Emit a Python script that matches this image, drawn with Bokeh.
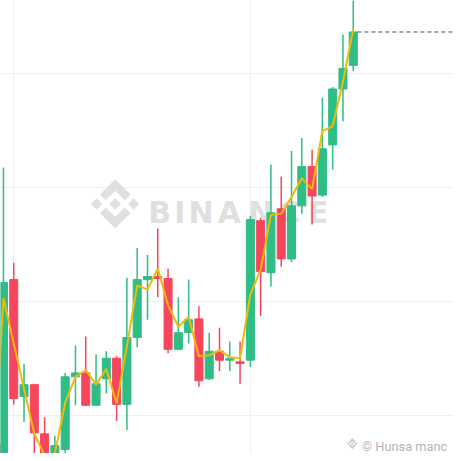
from bokeh.plotting import figure
from bokeh.models import Range1d, Grid, FixedTicker
from bokeh.core.properties import value
from bokeh.embed import file_html
from bokeh.resources import INLINE

# ---------------- data ----------------
idx = list(range(-1, 35))
opens = [97.50, 95.47, 111.94, 101.68, 102.72, 98.41, 95.73, 97.03, 103.41, 103.75,
         100.91, 103.23, 105.04, 100.99, 106.85, 111.94, 112.20, 112.03, 105.82, 107.28,
         108.49, 103.23, 105.65, 104.87, 104.72, 104.87, 117.11, 112.54, 118.15, 113.75,
         118.41, 121.85, 119.35, 123.75, 128.66, 130.73]
highs = [99.00, 121.77, 113.41, 104.53, 102.80, 99.87, 98.23, 103.75, 106.16, 106.94,
         105.39, 105.65, 105.22, 112.11, 114.70, 114.09, 116.42, 112.89, 110.39, 111.94,
         109.61, 107.28, 107.72, 106.51, 106.51, 117.54, 117.37, 122.03, 120.99, 123.23,
         124.35, 123.32, 127.89, 128.84, 133.41, 136.85]
lows = [95.00, 95.04, 100.99, 99.44, 96.34, 95.22, 95.04, 96.59, 100.91, 100.82,
        100.82, 101.94, 99.53, 98.75, 106.00, 108.41, 110.39, 105.47, 105.75, 106.34,
        102.54, 103.15, 103.92, 103.92, 102.80, 104.27, 108.75, 111.34, 113.06, 113.49,
        117.72, 116.77, 119.18, 121.59, 125.82, 130.22]
closes = [96.00, 111.68, 101.51, 102.72, 98.49, 95.91, 97.37, 103.41, 103.75, 100.91,
          102.80, 105.04, 100.99, 106.85, 111.94, 112.20, 112.03, 105.82, 107.28, 108.41,
          103.06, 105.65, 104.87, 105.04, 104.58, 117.20, 112.63, 117.80, 113.75, 118.41,
          121.85, 119.27, 123.41, 128.66, 130.47, 133.66]
ma = [95.04, 110.30, 106.34, 102.37, 98.41, 96.51, 96.68, 101.16, 103.41, 104.01,
      102.72, 104.09, 101.08, 106.08, 111.42, 111.08, 112.89, 109.70, 107.80, 108.66,
      105.22, 105.30, 105.73, 105.13, 105.04, 110.65, 112.80, 117.63, 117.72, 119.18,
      120.82, 119.87, 124.96, 125.39, 129.27, 133.92]
grid_prices = [100, 110, 120, 130]
grid_bars = [1, 24]
watermark_text = "BINANCE"
credit_text = "© Hunsa manc"

# ---------------- geometry helpers ----------------
REF = 461.0
X0_PX, STEP_PX = 3.0, 10.47
Y_REF_PX, PX_PER_UNIT = 422.5, 11.6
SIZE = 453
S = SIZE / REF


def dx(px):
    return (px - X0_PX) / STEP_PX


def dy(py):
    return 100 + (Y_REF_PX - py) / PX_PER_UNIT


GREEN = "#2ebd85"
RED = "#f6465d"
YELLOW = "#f0b90b"
WM = "#e0e0e0"

p = figure(width=SIZE, height=SIZE,
           x_range=Range1d(dx(0), dx(REF)), y_range=Range1d(dy(REF), dy(0)),
           x_axis_location=None, y_axis_location=None,
           toolbar_location=None, output_backend="svg",
           min_border=0, outline_line_color=None,
           background_fill_color="white", border_fill_color="white")
p.grid.visible = False

p.add_layout(Grid(dimension=0, ticker=FixedTicker(ticks=grid_bars),
                  grid_line_color="#efefef", grid_line_width=1))
p.add_layout(Grid(dimension=1, ticker=FixedTicker(ticks=grid_prices),
                  grid_line_color="#efefef", grid_line_width=1))

# ---------------- watermark ----------------
top_chev = [(-0.395, 0.158), (0.0, 0.553), (0.395, 0.158), (0.625, 0.387), (0.0, 1.012), (-0.625, 0.388)]
bot_chev = [(x, -y) for x, y in top_chev]


def diamond(cx, r):
    return [(cx - r, 0), (cx, r), (cx + r, 0), (cx, -r)]


logo_shapes = [top_chev, bot_chev, diamond(-0.77, 0.23), diamond(0.77, 0.23), diamond(0.0, 0.233)]


def logo(cx_px, cy_px, scale_px, color):
    xs, ys = [], []
    for shp in logo_shapes:
        xs.append([dx(cx_px + u * scale_px) for u, v in shp])
        ys.append([dy(cy_px - v * scale_px) for u, v in shp])
    p.patches(xs, ys, fill_color=color, line_color=color, line_width=0.5)


logo(116.7, 207, 24.5, WM)

letter_centers_px = [162, 182.5, 204, 233, 265, 294, 323]
p.text(x=[dx(c) for c in letter_centers_px], y=[dy(216)] * len(watermark_text),
       text=list(watermark_text), text_font=value("DejaVu Sans"),
       text_font_style="bold", text_font_size=f"{30.5 * S:.1f}px",
       text_color=WM, text_align="center", text_baseline="alphabetic")

# credit
logo(358, 451, 5.2, "#c9c9c9")
p.text(x=[dx(368)], y=[dy(454)], text=[credit_text], text_font=value("Roboto"),
       text_font_size=f"{13 * S:.1f}px", text_color="#b5b5b5",
       text_align="left", text_baseline="alphabetic")

# ---------------- candles ----------------
colors = [GREEN if c >= o else RED for o, c in zip(opens, closes)]
tops = [max(o, c) for o, c in zip(opens, closes)]
bottoms = [min(o, c) for o, c in zip(opens, closes)]

p.segment(x0=idx, y0=lows, x1=idx, y1=highs, line_color=colors, line_width=1.5)
p.vbar(x=idx, width=0.78, top=tops, bottom=bottoms, fill_color=colors,
       line_color=colors, line_width=1)

# moving average
p.line(idx, ma, line_color=YELLOW, line_width=2)

# last price line
p.segment(x0=[idx[-1] + 0.4], y0=[closes[-1]], x1=[dx(REF)], y1=[closes[-1]],
          line_color="#474d57", line_width=1, line_dash="4 3")

open("out.html", "w").write(file_html(p, INLINE))
